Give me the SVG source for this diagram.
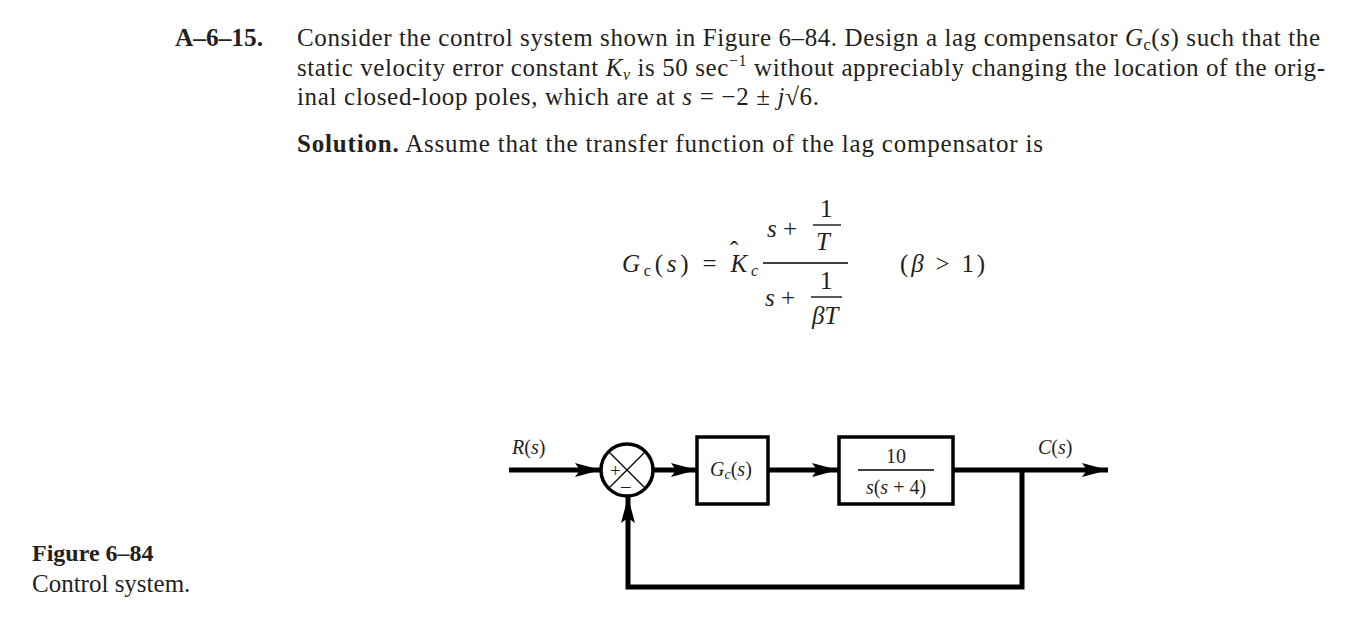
<svg xmlns="http://www.w3.org/2000/svg" width="1353" height="624" viewBox="0 0 1353 624">
<style>
text{font-family:"Liberation Serif","Times New Roman",serif;fill:#231f20}
.t{font-size:25px}
.b{font-weight:bold}
.i{font-style:italic}
.ln{stroke:#000;stroke-width:5;fill:none}
.bx{stroke:#000;stroke-width:3.5;fill:#fff}
.th{stroke:#000;stroke-width:1.3}
</style>
<defs>
<marker id="ahb" markerWidth="26" markerHeight="14" refX="26" refY="7" orient="auto" markerUnits="userSpaceOnUse"><path d="M0,0 L26,7 L0,14 L5,7 z" fill="#000"/></marker></defs>
<rect width="1353" height="624" fill="#fff"/>
<g id="header">
<text class="t b" x="175" y="46" textLength="88" lengthAdjust="spacingAndGlyphs">A–6–15.</text>
<text class="t" x="297" y="46" textLength="1023" lengthAdjust="spacing">Consider the control system shown in Figure 6–84. Design a lag compensator <tspan class="i">G</tspan><tspan font-size="16" dy="4">c</tspan><tspan dy="-4">(</tspan><tspan class="i">s</tspan>) such that the</text>
<text class="t" x="297" y="76" textLength="1028" lengthAdjust="spacing">static velocity error constant <tspan class="i">K</tspan><tspan class="i" font-size="16" dy="4">v</tspan><tspan dy="-4"> is 50 sec</tspan><tspan font-size="16" dy="-10">−1</tspan><tspan dy="10"> without appreciably changing the location of the orig-</tspan></text>
<text class="t" x="297" y="105" textLength="522" lengthAdjust="spacing">inal closed-loop poles, which are at <tspan class="i">s</tspan> = −2 ± <tspan class="i">j</tspan>√6.</text>
<text class="t" x="297" y="152" textLength="746" lengthAdjust="spacing"><tspan class="b">Solution.</tspan> Assume that the transfer function of the lag compensator is</text>
</g>
<g id="equation">
<text class="t" x="622" y="272" textLength="136" lengthAdjust="spacing"><tspan class="i">G</tspan><tspan font-size="16" dy="4">c</tspan><tspan dy="-4">(</tspan><tspan class="i">s</tspan>) = <tspan class="i">K</tspan><tspan font-size="16" class="i" dy="4">c</tspan></text>
<text class="t" x="730" y="259">ˆ</text>
<line class="th" x1="763" y1="263" x2="848" y2="263"/>
<text class="t" x="767" y="237"><tspan class="i">s</tspan>  +</text>
<text class="t" x="820" y="217">1</text>
<line class="th" x1="813" y1="225" x2="841" y2="225"/>
<text class="t i" x="816" y="250">T</text>
<text class="t" x="765" y="306"><tspan class="i">s</tspan>  +</text>
<text class="t" x="820" y="289">1</text>
<line class="th" x1="811" y1="297" x2="842" y2="297"/>
<text class="t i" x="812" y="324">βT</text>
<text class="t" x="900" y="272" textLength="85" lengthAdjust="spacing">(<tspan class="i">β</tspan> &gt; 1)</text>
</g>
<g id="connectors">
<line class="ln" x1="509" y1="470" x2="601" y2="470" marker-end="url(#ahb)"/>
<line class="ln" x1="653" y1="470" x2="697" y2="470" marker-end="url(#ahb)"/>
<line class="ln" x1="768" y1="470" x2="838" y2="470" marker-end="url(#ahb)"/>
<line class="ln" x1="953" y1="470" x2="1108" y2="470" marker-end="url(#ahb)"/>
<polyline class="ln" points="1022,470 1022,587 628,587 628,497" marker-end="url(#ahb)"/>
</g>
<g id="sum">
<circle cx="627" cy="470" r="26" class="bx"/>
<line class="th" x1="609" y1="452" x2="645" y2="488"/>
<line class="th" x1="645" y1="452" x2="609" y2="488"/>
<text x="610" y="477" font-size="19">+</text>
<text x="621" y="492" font-size="19">–</text>
</g>
<g id="gc"><rect class="bx" x="697" y="437" width="71" height="67"/>
<text x="710" y="476" font-size="20"><tspan class="i">G</tspan><tspan font-size="14" class="i" dy="3">c</tspan><tspan dy="-3">(</tspan><tspan class="i">s</tspan>)</text></g>
<g id="plant"><rect class="bx" x="839" y="437" width="114" height="67"/>
<text x="896" y="463" font-size="20" text-anchor="middle">10</text>
<line class="th" x1="858" y1="470" x2="934" y2="470"/>
<text x="896" y="494" font-size="20" text-anchor="middle"><tspan class="i">s</tspan>(<tspan class="i">s</tspan> + 4)</text></g>
<g id="labels">
<text x="512" y="454" font-size="20"><tspan class="i">R</tspan>(<tspan class="i">s</tspan>)</text>
<text x="1038" y="454" font-size="20"><tspan class="i">C</tspan>(<tspan class="i">s</tspan>)</text>
<text class="b" x="32" y="561" font-size="24">Figure 6–84</text>
<text x="32" y="592" font-size="25">Control system.</text>
</g>
</svg>
